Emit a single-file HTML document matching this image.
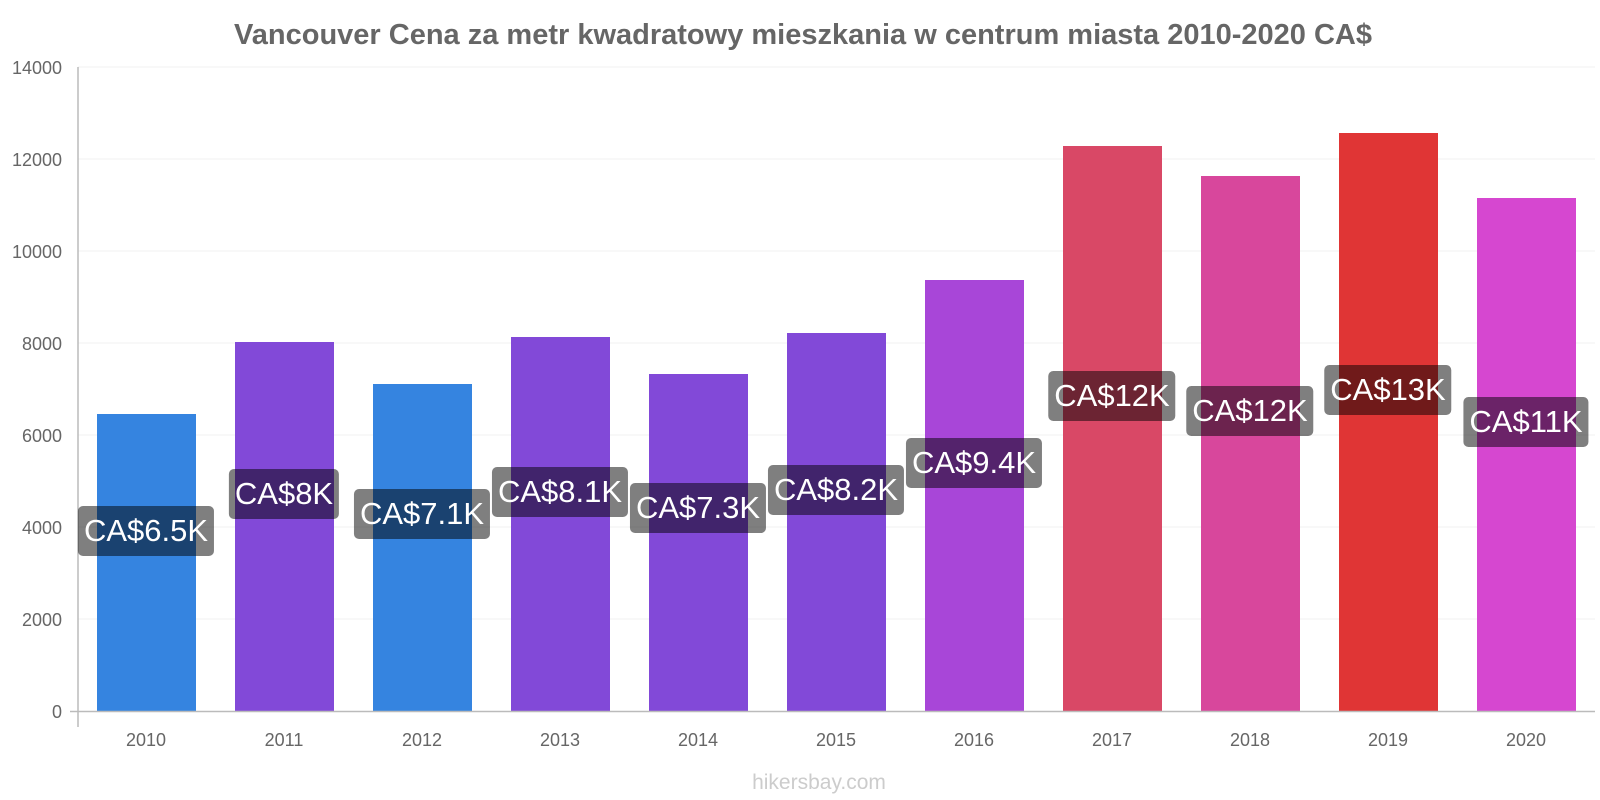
<!DOCTYPE html>
<html><head><meta charset="utf-8"><style>
html,body{margin:0;padding:0;background:#fff;width:1600px;height:800px;overflow:hidden;font-family:"Liberation Sans",sans-serif;}
.lb{position:absolute;transform:translate(-50%,-50%);background:rgba(0,0,0,0.5);color:#fff;font-size:31px;padding:6px 6px;border-radius:5px;white-space:nowrap;line-height:38px;}
</style></head><body>
<svg width="1600" height="800" style="position:absolute;left:0;top:0" font-family="Liberation Sans, sans-serif">
<text x="803" y="44" text-anchor="middle" font-size="29" font-weight="bold" fill="#666">Vancouver Cena za metr kwadratowy mieszkania w centrum miasta 2010-2020 CA$</text>
<g stroke="#f0f0f0" stroke-width="1">
<line x1="78" x2="1595" y1="67" y2="67"/><line x1="78" x2="1595" y1="159" y2="159"/><line x1="78" x2="1595" y1="251" y2="251"/><line x1="78" x2="1595" y1="343" y2="343"/><line x1="78" x2="1595" y1="435" y2="435"/><line x1="78" x2="1595" y1="527" y2="527"/><line x1="78" x2="1595" y1="619" y2="619"/>
</g>
<g font-size="18" fill="#666" text-anchor="end">
<text x="62" y="74">14000</text><text x="62" y="166">12000</text><text x="62" y="258">10000</text><text x="62" y="350">8000</text><text x="62" y="442">6000</text><text x="62" y="534">4000</text><text x="62" y="626">2000</text><text x="62" y="718">0</text>
</g>
<g>
<rect x="97" y="414" width="99" height="297" fill="#3584e0"/>
<rect x="235" y="342" width="99" height="369" fill="#8249d8"/>
<rect x="373" y="384" width="99" height="327" fill="#3584e0"/>
<rect x="511" y="337" width="99" height="374" fill="#8249d8"/>
<rect x="649" y="374" width="99" height="337" fill="#8249d8"/>
<rect x="787" y="333" width="99" height="378" fill="#8249d8"/>
<rect x="925" y="280" width="99" height="431" fill="#a846d8"/>
<rect x="1063" y="146" width="99" height="565" fill="#d94866"/>
<rect x="1201" y="176" width="99" height="535" fill="#d8479c"/>
<rect x="1339" y="133" width="99" height="578" fill="#e03535"/>
<rect x="1477" y="198" width="99" height="513" fill="#d647d0"/>
</g>
<line x1="78" x2="78" y1="67" y2="727" stroke="#bbb" stroke-width="1.5"/>
<line x1="70" x2="1595" y1="711.5" y2="711.5" stroke="#bbb" stroke-width="1.5"/>
<g font-size="18" fill="#666" text-anchor="middle">
<text x="146" y="746">2010</text><text x="284" y="746">2011</text><text x="422" y="746">2012</text><text x="560" y="746">2013</text><text x="698" y="746">2014</text><text x="836" y="746">2015</text><text x="974" y="746">2016</text><text x="1112" y="746">2017</text><text x="1250" y="746">2018</text><text x="1388" y="746">2019</text><text x="1526" y="746">2020</text>
</g>
<text x="819" y="789" text-anchor="middle" font-size="21" fill="#ccc">hikersbay.com</text>
</svg>
<div class="lb" style="left:146px;top:531px">CA$6.5K</div>
<div class="lb" style="left:284px;top:494px">CA$8K</div>
<div class="lb" style="left:422px;top:514px">CA$7.1K</div>
<div class="lb" style="left:560px;top:492px">CA$8.1K</div>
<div class="lb" style="left:698px;top:508px">CA$7.3K</div>
<div class="lb" style="left:836px;top:490px">CA$8.2K</div>
<div class="lb" style="left:974px;top:463px">CA$9.4K</div>
<div class="lb" style="left:1112px;top:396px">CA$12K</div>
<div class="lb" style="left:1250px;top:411px">CA$12K</div>
<div class="lb" style="left:1388px;top:390px">CA$13K</div>
<div class="lb" style="left:1526px;top:422px">CA$11K</div>
</body></html>
